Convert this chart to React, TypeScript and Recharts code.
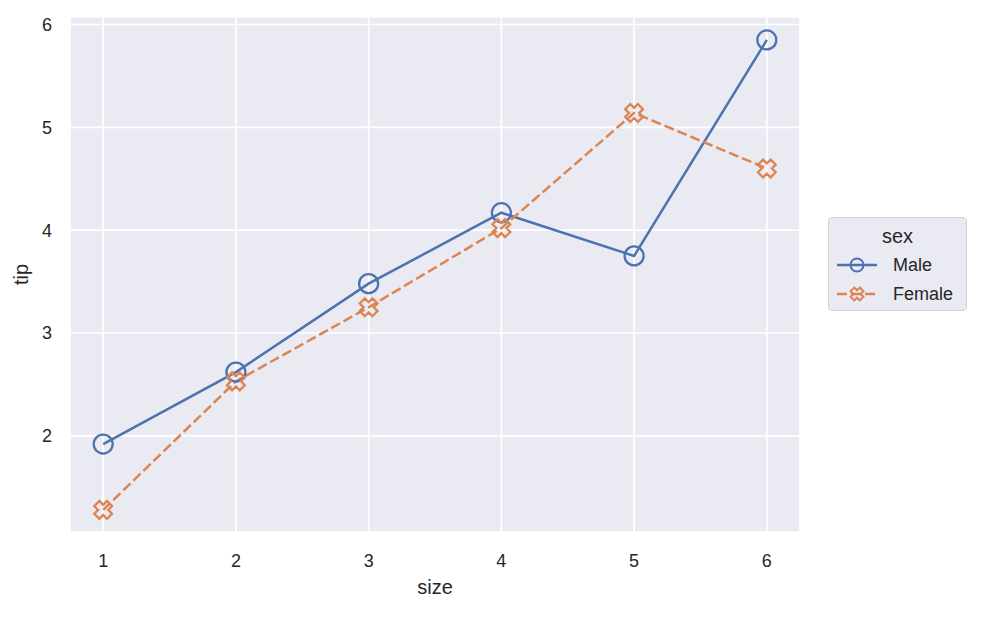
import React from 'react';
import { LineChart, Line, XAxis, YAxis, CartesianGrid, Legend } from 'recharts';

const sizes = [1, 2, 3, 4, 5, 6];
const maleTips = [1.92, 2.62, 3.48, 4.17, 3.75, 5.85];
const femaleTips = [1.28, 2.53, 3.25, 4.02, 5.14, 4.6];
const xTicks = [1, 2, 3, 4, 5, 6];
const yTicks = [2, 3, 4, 5, 6];
const seriesNames = ['Male', 'Female'];
const legendTitle = 'sex';

const data = sizes.map((s, i) => ({ size: s, Male: maleTips[i], Female: femaleTips[i] }));

const BLUE = '#4C72B0';
const ORANGE = '#DD8452';
const BG = '#EAEAF2';
const TEXT = '#262626';
const FONT = '"Liberation Sans", Arial, sans-serif';

function xPath(cx: number, cy: number, b: number, a: number): string {
  const pts = [[-a, -b], [a, -b], [a, -a], [b, -a], [b, a], [a, a], [a, b], [-a, b], [-a, a], [-b, a], [-b, -a], [-a, -a]];
  const c = Math.SQRT1_2;
  return pts
    .map(([x, y], i) => `${i === 0 ? 'M' : 'L'}${(cx + (x - y) * c).toFixed(2)},${(cy + (x + y) * c).toFixed(2)}`)
    .join(' ') + ' Z';
}

const CircleDot = (props: any) => {
  const { cx, cy, index } = props;
  if (cx == null || cy == null) return <g key={`c${index}`} />;
  return <circle key={`c${index}`} cx={cx} cy={cy} r={9.5} fill="none" stroke={BLUE} strokeWidth={2.3} />;
};

const XDot = (props: any) => {
  const { cx, cy, index } = props;
  if (cx == null || cy == null) return <g key={`x${index}`} />;
  return <path key={`x${index}`} d={xPath(cx, cy, 9, 3.6)} fill="none" stroke={ORANGE} strokeWidth={2.3} strokeLinejoin="miter" />;
};

const renderLegend = (props: any) => {
  const payload = [...(props.payload || [])].sort(
    (a: any, b: any) => seriesNames.indexOf(a.value) - seriesNames.indexOf(b.value)
  );
  return (
    <div
      style={{
        width: 137,
        height: 92,
        background: BG,
        border: '1px solid #D2D2D8',
        borderRadius: 4,
        position: 'relative',
        fontFamily: FONT,
        color: TEXT,
      }}
    >
      <div style={{ position: 'absolute', left: 0, width: 137, top: 6, textAlign: 'center', fontSize: 20, lineHeight: '24px' }}>
        {legendTitle}
      </div>
      {payload.map((entry: any, i: number) => {
        const isMale = entry.value === seriesNames[0];
        const color = isMale ? BLUE : ORANGE;
        return (
          <div key={entry.value} style={{ position: 'absolute', left: 0, top: 34 + i * 29, height: 26, width: 137 }}>
            <svg width={56} height={26} style={{ position: 'absolute', left: 6, top: 0 }}>
              <line x1={2} y1={13} x2={42} y2={13} stroke={color} strokeWidth={2.5} strokeDasharray={isMale ? undefined : '10 4'} />
              {isMale ? (
                <circle cx={22} cy={13} r={6.5} fill="none" stroke={color} strokeWidth={2} />
              ) : (
                <path d={xPath(22, 13, 6.5, 2.6)} fill="none" stroke={color} strokeWidth={2} />
              )}
            </svg>
            <span style={{ position: 'absolute', left: 64, top: 2, fontSize: 18, lineHeight: '22px' }}>{entry.value}</span>
          </div>
        );
      })}
    </div>
  );
};

export default function App() {
  return (
    <div style={{ width: 986, height: 606, position: 'relative' }}>
      <LineChart
        width={986}
        height={606}
        data={data}
        margin={{ top: 9, right: 194, left: 2, bottom: 22 }}
        style={{ fontFamily: FONT }}
      >
        <CartesianGrid stroke="#FFFFFF" strokeWidth={1.7} fill={BG} fillOpacity={1} />
        <XAxis
          dataKey="size"
          type="number"
          domain={[0.75, 6.25]}
          ticks={xTicks}
          interval={0}
          tickLine={false}
          axisLine={false}
          tickMargin={16}
          height={60}
          tick={{ fill: TEXT, fontSize: 18, fontFamily: FONT }}
          label={{ value: 'size', position: 'insideBottom', offset: -2, fill: TEXT, fontSize: 20, fontFamily: FONT }}
        />
        <YAxis
          type="number"
          domain={[1.065, 6.073]}
          ticks={yTicks}
          interval={0}
          allowDataOverflow
          tickLine={false}
          axisLine={false}
          tickMargin={12}
          width={60}
          tick={{ fill: TEXT, fontSize: 18, fontFamily: FONT }}
          label={{ value: 'tip', angle: -90, position: 'insideLeft', offset: 11, fill: TEXT, fontSize: 20, fontFamily: FONT, style: { textAnchor: 'middle' } }}
        />
        <Legend
          content={renderLegend}
          layout="vertical"
          align="center"
          verticalAlign="middle"
          wrapperStyle={{ position: 'absolute', left: 820, top: 209, width: 139, height: 94 }}
        />
        <Line
          type="linear"
          dataKey="Male"
          name="Male"
          stroke={BLUE}
          strokeWidth={2.5}
          dot={(p: any) => <CircleDot {...p} key={`m${p.index}`} />}
          activeDot={false}
          isAnimationActive={false}
        />
        <Line
          type="linear"
          dataKey="Female"
          name="Female"
          stroke={ORANGE}
          strokeWidth={2.5}
          strokeDasharray="10 4"
          dot={(p: any) => <XDot {...p} key={`f${p.index}`} />}
          activeDot={false}
          isAnimationActive={false}
        />
      </LineChart>
    </div>
  );
}
